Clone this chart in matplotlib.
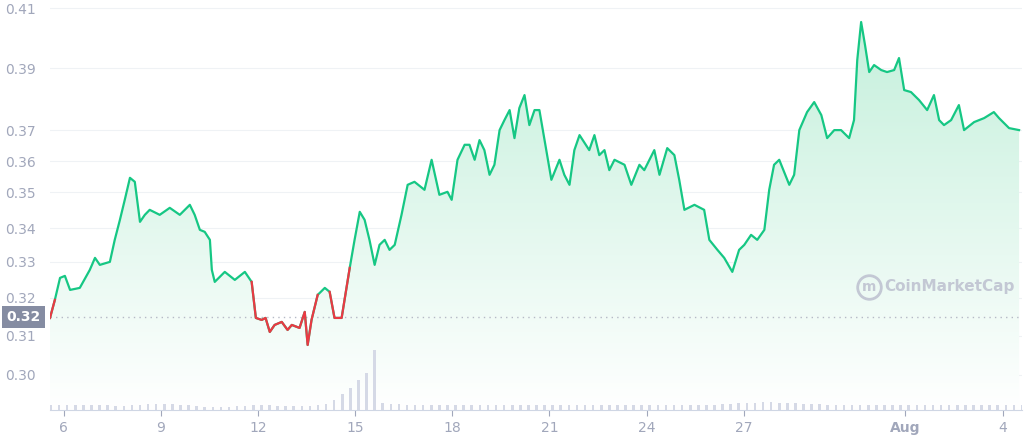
import numpy as np
import matplotlib.pyplot as plt
from matplotlib.patches import Polygon

# price trace (day of July, USD)
days = [5.57, 5.72, 5.88, 6.03, 6.19, 6.49, 6.80, 6.96, 7.11, 7.42, 7.57, 7.73, 7.88, 8.04, 8.19, 8.35,
        8.50, 8.65, 8.96, 9.27, 9.58, 9.89, 10.04, 10.20, 10.35, 10.51, 10.57, 10.66, 10.97, 11.28, 11.59,
        11.80, 11.93, 12.11, 12.23, 12.36, 12.51, 12.73, 12.91, 13.04, 13.28, 13.44, 13.53, 13.65, 13.84,
        14.06, 14.21, 14.36, 14.58, 14.83, 14.98, 15.14, 15.29, 15.44, 15.60, 15.75, 15.91, 16.06, 16.22,
        16.43, 16.62, 16.83, 17.14, 17.36, 17.60, 17.85, 17.98, 18.16, 18.38, 18.53, 18.69, 18.84, 18.99,
        19.15, 19.30, 19.46, 19.61, 19.77, 19.92, 20.07, 20.23, 20.38, 20.54, 20.69, 20.85, 21.06, 21.31,
        21.46, 21.62, 21.77, 21.93, 22.23, 22.39, 22.54, 22.70, 22.85, 23.01, 23.32, 23.53, 23.78, 23.93,
        24.24, 24.40, 24.64, 24.86, 25.01, 25.17, 25.48, 25.78, 25.94, 26.19, 26.40, 26.65, 26.86, 27.02,
        27.23, 27.42, 27.64, 27.79, 27.94, 28.10, 28.41, 28.56, 28.72, 28.96, 29.18, 29.40, 29.58, 29.80,
        30.01, 30.26, 30.41, 30.51, 30.63, 30.75, 30.88, 31.03, 31.25, 31.43, 31.65, 31.80, 31.96, 32.17,
        32.42, 32.67, 32.88, 33.04, 33.19, 33.41, 33.65, 33.81, 34.12, 34.43, 34.73, 34.89, 35.20, 35.51]
price = [0.3171, 0.3225, 0.3291, 0.3297, 0.3255, 0.3261, 0.3315, 0.3351, 0.3330, 0.3339, 0.3405, 0.3465,
         0.3525, 0.3591, 0.3579, 0.3459, 0.3480, 0.3495, 0.3480, 0.3501, 0.3480, 0.3510, 0.3480, 0.3435,
         0.3429, 0.3405, 0.3315, 0.3279, 0.3309, 0.3285, 0.3309, 0.3279, 0.3171, 0.3165, 0.3171, 0.3129,
         0.3150, 0.3159, 0.3135, 0.3150, 0.3141, 0.3189, 0.3090, 0.3165, 0.3240, 0.3261, 0.3249, 0.3171,
         0.3171, 0.3321, 0.3405, 0.3489, 0.3465, 0.3405, 0.3330, 0.3390, 0.3405, 0.3375, 0.3390, 0.3480,
         0.3570, 0.3579, 0.3555, 0.3645, 0.3540, 0.3549, 0.3525, 0.3645, 0.3690, 0.3690, 0.3645, 0.3704,
         0.3674, 0.3600, 0.3630, 0.3734, 0.3764, 0.3794, 0.3710, 0.3800, 0.3839, 0.3749, 0.3794, 0.3794,
         0.3704, 0.3585, 0.3645, 0.3600, 0.3570, 0.3674, 0.3719, 0.3674, 0.3719, 0.3659, 0.3674, 0.3614,
         0.3645, 0.3630, 0.3570, 0.3630, 0.3614, 0.3674, 0.3600, 0.3680, 0.3659, 0.3585, 0.3495, 0.3510,
         0.3495, 0.3405, 0.3375, 0.3351, 0.3309, 0.3375, 0.3390, 0.3420, 0.3405, 0.3435, 0.3555, 0.3630,
         0.3645, 0.3570, 0.3600, 0.3734, 0.3788, 0.3818, 0.3779, 0.3710, 0.3734, 0.3734, 0.3710, 0.3764,
         0.3944, 0.4058, 0.3989, 0.3908, 0.3929, 0.3914, 0.3908, 0.3914, 0.3950, 0.3854, 0.3848, 0.3824,
         0.3794, 0.3839, 0.3764, 0.3749, 0.3764, 0.3809, 0.3734, 0.3758, 0.3770, 0.3788, 0.3770, 0.3740,
         0.3734]
baseline = 0.3174

# volume, relative units, every 0.25 day from day 5.6
vol_start = 5.6
volume = [1.0, 1.0, 1.0, 1.0, 1.0, 1.0, 1.0, 1.0, 0.9, 0.9, 1.0, 1.1, 1.2, 1.2,
          1.2, 1.2, 1.1, 1.0, 0.8, 0.7, 0.7, 0.7, 0.7, 0.8, 0.9, 1.0, 1.0,
          1.0, 0.9, 0.8, 0.8, 0.8, 0.9, 1.0, 1.2, 2.0, 3.2, 4.5,
          6.0, 7.5, 12.0, 1.4, 1.3, 1.2, 1.1, 1.0, 1.0, 1.0, 1.0, 1.0, 1.0, 1.0, 1.0, 1.0,
          1.0, 1.0, 1.0, 1.0, 1.0, 1.0, 1.0, 1.0, 1.0, 1.0, 1.0, 1.0, 1.0, 1.0, 1.0, 1.0,
          1.0, 1.0, 1.0, 1.0, 1.0, 1.0, 1.0, 1.0, 1.0, 1.0, 1.0, 1.0, 1.1, 1.2, 1.3, 1.4,
          1.5, 1.5, 1.6, 1.6, 1.5, 1.5, 1.4, 1.3, 1.2, 1.2, 1.1, 1.1, 1.0, 1.0, 1.0, 1.0,
          1.0, 1.0, 1.0, 1.0, 1.0, 1.0, 1.0, 1.0, 1.0, 1.0, 1.0, 1.0, 1.0, 1.0, 1.0, 1.0, 1.0, 1.0, 1.0]

yticks = [0.4100, 0.3920, 0.3734, 0.3641, 0.3548, 0.3440, 0.3339, 0.3231, 0.3117, 0.3000]
ylabels = ['0.41', '0.39', '0.37', '0.36', '0.35', '0.34', '0.33', '0.32', '0.31', '0.30']
xticks = [6, 9, 12, 15, 18, 21, 24, 27, 32, 35]
xlabels = ['6', '9', '12', '15', '18', '21', '24', '27', 'Aug', '4']

green = '#16c784'
red = '#ea3943'
grey = '#a1a7bb'

fig = plt.figure(figsize=(10.24, 4.41), dpi=100)
ax = fig.add_axes([50 / 1024, 31 / 441, 972 / 1024, 410 / 441])
x = np.array(days)
y = np.array(price)
ymin, ymax = 0.2895, 0.4124
ax.set_xlim(5.57, 35.6)
ax.set_ylim(ymin, ymax)

# gradient fill below line
grad = np.linspace(0, 1, 256).reshape(-1, 1)
cmap = plt.matplotlib.colors.LinearSegmentedColormap.from_list('g', ['#ffffff', '#c5f0dc'])
img = ax.imshow(grad, extent=[x[0], x[-1], ymin, y.max()], origin='lower', aspect='auto',
                cmap=cmap, zorder=1)
poly = Polygon(np.column_stack([np.r_[x[0], x, x[-1]], np.r_[ymin, y, ymin]]),
               closed=True, transform=ax.transData, facecolor='none', edgecolor='none')
ax.add_patch(poly)
img.set_clip_path(poly)

ax.plot(x, y, color=green, lw=1.6, zorder=3)
below = y < baseline
mask = below | np.r_[below[1:], False] | np.r_[False, below[:-1]]
ax.plot(x, np.where(mask, y, np.nan), color=red, lw=1.6, zorder=4)
ax.axhline(baseline, color='#b5b9c6', ls=(0, (1, 3)), lw=1, zorder=2)

for t in yticks:
    ax.axhline(t, color='#eff2f5', lw=0.8, zorder=0)
ax.set_yticks(yticks)
ax.set_yticklabels(ylabels)
ax.set_xticks(xticks)
ax.set_xticklabels(xlabels)
ax.get_xticklabels()[8].set_fontweight('bold')
ax.tick_params(axis='y', length=0, colors=grey, labelsize=10, pad=10)
ax.tick_params(axis='x', length=4, colors=grey, labelsize=10, pad=4)
for s in ['top', 'right', 'left']:
    ax.spines[s].set_visible(False)
ax.spines['bottom'].set_color('#cfd6e4')

ax.text(-0.045, (baseline - ymin) / (ymax - ymin), '0.32', transform=ax.transAxes,
        ha='left', va='center', color='white', fontsize=10, fontweight='bold',
        bbox=dict(boxstyle='square,pad=0.3', fc='#858ca2', ec='none'))

# watermark
ax.plot([0.843], [0.3], 'o', ms=17, mfc='none', mec='#c3c8d4', mew=2,
        transform=ax.transAxes, zorder=5)
ax.text(0.843, 0.3, 'm', transform=ax.transAxes, fontsize=10, color='#c3c8d4',
        ha='center', va='center', fontweight='bold', zorder=5)
ax.text(0.858, 0.3, 'CoinMarketCap', transform=ax.transAxes, fontsize=11,
        color='#c3c8d4', ha='left', va='center', fontweight='bold')

vax = ax.twinx()
vx = vol_start + 0.25 * np.arange(len(volume))
vax.bar(vx, volume, width=0.08, color='#d5d9e6', zorder=1)
vax.set_ylim(0, 82)
vax.axis('off')

fig.savefig('out.png', dpi=100)
